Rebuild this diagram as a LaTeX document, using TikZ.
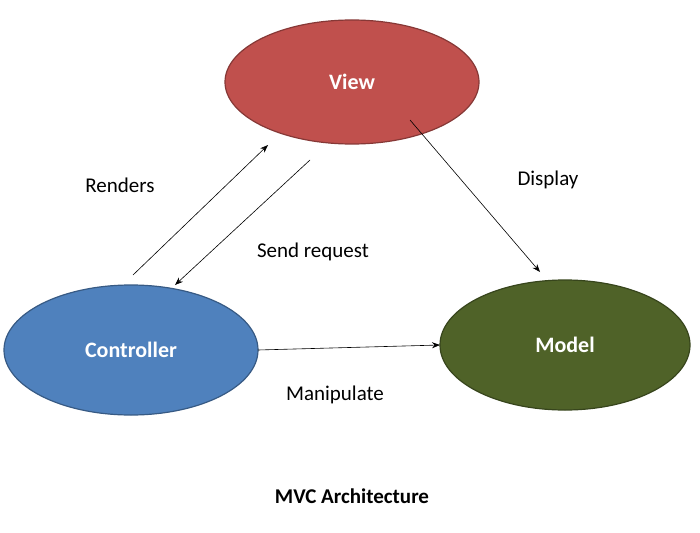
\documentclass[tikz,border=0pt]{standalone}
\usepackage{fontspec}
\setmainfont{Carlito}
\usetikzlibrary{shapes.geometric,arrows.meta}
\definecolor{viewc}{HTML}{C0504D}
\definecolor{ctrlc}{HTML}{4F81BD}
\definecolor{modelc}{HTML}{4F6228}
\begin{document}
\begin{tikzpicture}[x=1pt,y=-1pt,
  ell/.style={ellipse,draw=#1!70!black,line width=1.2pt,fill=#1,text=white,font=\fontsize{22}{26}\selectfont\bfseries,inner sep=0pt},
  lab/.style={font=\fontsize{21}{25}\selectfont},
  arr/.style={-{Stealth[length=8pt,width=6pt]},line width=0.6pt}]
\useasboundingbox (0,0) rectangle (700,532);
\node[ell=viewc,minimum width=254pt,minimum height=124pt] (view) at (352,82) {View};
\node[ell=ctrlc,minimum width=254pt,minimum height=130pt] (ctrl) at (131,350) {Controller};
\node[ell=modelc,minimum width=250pt,minimum height=130pt] (model) at (565,345) {Model};
\coordinate (r1) at (133,275); \coordinate (r2) at (268,145);
\coordinate (s1) at (310,160); \coordinate (s2) at (175,285);
\coordinate (d1) at (410,120); \coordinate (d2) at (540,272);
\coordinate (m1) at (258,350); \coordinate (m2) at (440,345);
\draw[arr] (r1) -- (r2);
\draw[arr] (s1) -- (s2);
\draw[arr] (d1) -- (d2);
\draw[arr] (m1) -- (m2);
\node[lab] (lr) at (120,185) {Renders};
\node[lab] (ld) at (548,180) {Display};
\node[lab] (ls) at (313,252) {Send request};
\node[lab] (lm) at (335,395) {Manipulate};
\node[lab,font=\fontsize{21}{25}\selectfont\bfseries] (title) at (352,496) {MVC Architecture};
\end{tikzpicture}
\end{document}
